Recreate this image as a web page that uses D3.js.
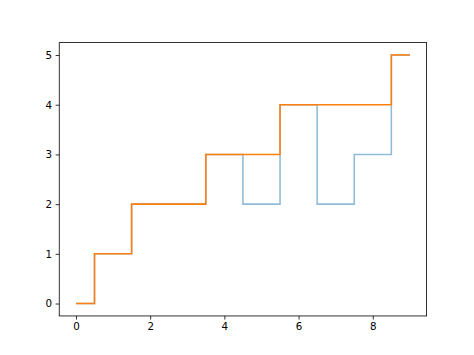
<!DOCTYPE html>
<html><head><meta charset="utf-8">
<script src="https://cdn.jsdelivr.net/npm/d3@7"></script>
<style>body{margin:0;background:#fff}svg{display:block}</style>
</head><body>
<script>
const xs = [0,1,2,3,4,5,6,7,8,9];
const raw = [0,1,2,2,3,2,4,2,3,5];
const cummax = [0,1,2,2,3,3,4,4,4,5];
const xTicks = [0,2,4,6,8];
const yTicks = [0,1,2,3,4,5];

const W=474,H=355;
const L=59.25,R=426.6,T=42.6,B=315.95;
const svg=d3.select("body").append("svg").attr("width",W).attr("height",H);
const x=d3.scaleLinear().domain([-0.45,9.45]).range([L,R]);
const y=d3.scaleLinear().domain([-0.25,5.25]).range([B,T]);
const line=d3.line().x((d,i)=>x(xs[i])).y(d=>y(d)).curve(d3.curveStep);
svg.append("path").datum(raw).attr("d",line).attr("fill","none")
  .attr("stroke","#1f77b4").attr("stroke-opacity",0.5).attr("stroke-width",1.54);
svg.append("path").datum(cummax).attr("d",line).attr("fill","none")
  .attr("stroke","#ff7f0e").attr("stroke-width",1.54);

const fs="10.3px";
const gx=svg.append("g").attr("transform",`translate(0,${B})`)
  .call(d3.axisBottom(x).tickValues(xTicks).tickSize(3.6).tickPadding(3.6).tickFormat(d3.format("d")));
const gy=svg.append("g").attr("transform",`translate(${L},0)`)
  .call(d3.axisLeft(y).tickValues(yTicks).tickSize(3.6).tickPadding(3.6).tickFormat(d3.format("d")));
[gx,gy].forEach(g=>{
  g.select(".domain").remove();
  g.selectAll("line").attr("stroke","#000").attr("stroke-width",0.8);
  g.selectAll("text").attr("font-family","DejaVu Sans").attr("font-size",fs).attr("fill","#000");
});
svg.append("rect").attr("x",L).attr("y",T).attr("width",R-L).attr("height",B-T)
  .attr("fill","none").attr("stroke","#000").attr("stroke-width",0.8);
</script>
</body></html>
